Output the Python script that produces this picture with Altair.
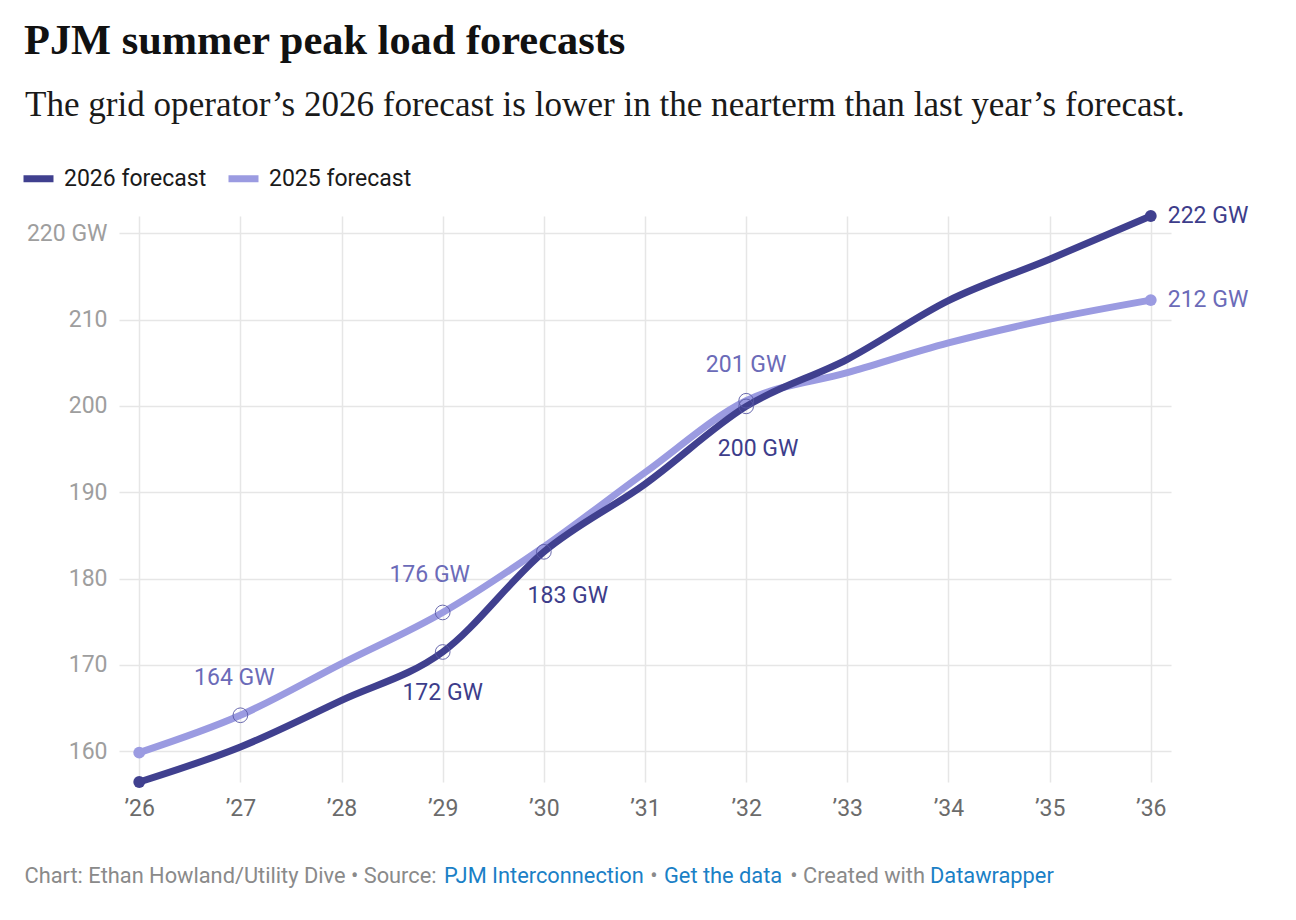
import altair as alt
import pandas as pd

# ---- data ----
years = list(range(2026, 2037))
forecast_2026 = [156.44, 160.5, 165.9, 171.5, 183.1, 190.95, 199.95, 205.4, 212.2, 217.0, 222.0]
forecast_2025 = [159.85, 164.17, 170.16, 176.08, 183.68, 192.29, 200.6, 203.85, 207.3, 210.05, 212.26]
series_names = ["2026 forecast", "2025 forecast"]
series_colors = ["#40408f", "#9b9be1"]
label_colors = {"2026 forecast": "#3d3d8b", "2025 forecast": "#6b6bb8"}
y_ticks = [160, 170, 180, 190, 200, 210, 220]
x_ticks = years

# annotated points: series, year, label, dx, dy
ann_series = ["2025 forecast", "2025 forecast", "2026 forecast", "2026 forecast", "2026 forecast", "2025 forecast"]
ann_years = [2027, 2029, 2029, 2030, 2032, 2032]
ann_labels = ["164 GW", "176 GW", "172 GW", "183 GW", "200 GW", "201 GW"]
ann_dx = [-6, -13, 0, 24, 12, 0]
ann_dy = [-30, -30, 48, 51, 50, -29]

end_series = ["2026 forecast", "2025 forecast"]
end_labels = ["222 GW", "212 GW"]

title_text = "PJM summer peak load forecasts"
subtitle_text = "The grid operator\u2019s 2026 forecast is lower in the nearterm than last year\u2019s forecast."

# ---- tables ----
df = pd.DataFrame({
    "year": years * 2,
    "value": forecast_2026 + forecast_2025,
    "series": ["2026 forecast"] * len(years) + ["2025 forecast"] * len(years),
})

lookup = {(s, y): v for s, y, v in zip(df["series"], df["year"], df["value"])}
ann_df = pd.DataFrame({
    "series": ann_series,
    "year": ann_years,
    "value": [lookup[(s, y)] for s, y in zip(ann_series, ann_years)],
    "label": ann_labels,
})
end_df = pd.DataFrame({
    "series": end_series,
    "year": [2036, 2036],
    "value": [lookup[(s, 2036)] for s in end_series],
    "label": end_labels,
})

all_vals = forecast_2026 + forecast_2025
xscale = alt.Scale(domain=[2025.8, 2036.2], nice=False, zero=False)
yscale = alt.Scale(domain=[min(all_vals), max(all_vals)], nice=False, zero=False)

xaxis = alt.Axis(
    title=None, values=x_ticks, format="d",
    labelExpr="'\u2019' + substring(datum.label, 2, 4)",
    domain=False, ticks=False, labelPadding=15, grid=True,
    labelColor="#6b6b6b", labelFontSize=23, labelFont="Roboto",
)
yaxis = alt.Axis(
    title=None, values=y_ticks,
    labelExpr="datum.value == 220 ? '220 GW' : datum.label",
    domain=False, ticks=False, labelPadding=12, grid=True,
    labelColor="#9e9e9e", labelFontSize=23, labelFont="Roboto",
)

X = alt.X("year:Q", scale=xscale, axis=xaxis)
Y = alt.Y("value:Q", scale=yscale, axis=yaxis)

color_legend = alt.Legend(
    title=None, orient="none", legendX=-99, legendY=-56, direction="horizontal",
    symbolType="stroke", symbolStrokeWidth=7, symbolSize=900,
    labelFontSize=23, labelFont="Roboto", labelColor="#1a1a1a",
    labelOffset=7, columnPadding=7, padding=0, labelLimit=400,
)
color_enc = alt.Color("series:N", scale=alt.Scale(domain=series_names, range=series_colors), legend=color_legend)
color_nolegend = alt.Color("series:N", scale=alt.Scale(domain=series_names, range=series_colors), legend=None)

base = alt.Chart(df).encode(x=X, y=Y)

light_line = base.transform_filter(alt.datum.series == "2025 forecast").mark_line(
    strokeWidth=7, interpolate="monotone", strokeCap="round", strokeJoin="round"
).encode(color=color_enc)
dark_line = base.transform_filter(alt.datum.series == "2026 forecast").mark_line(
    strokeWidth=7, interpolate="monotone", strokeCap="round", strokeJoin="round"
).encode(color=color_enc)

end_dots = base.transform_filter(
    (alt.datum.year == 2026) | (alt.datum.year == 2036)
).mark_circle(size=140, opacity=1).encode(color=color_nolegend)

hollow = alt.Chart(ann_df).mark_point(
    shape="circle", filled=False, size=216, strokeWidth=1, color="#5a5aa6", opacity=0.9
).encode(x=X, y=Y)

layers = [light_line, dark_line, end_dots, hollow]

for i in range(len(ann_labels)):
    layers.append(
        alt.Chart(ann_df).transform_filter(alt.datum.label == ann_labels[i]).mark_text(
            align="center", baseline="alphabetic", dx=ann_dx[i], dy=ann_dy[i],
            fontSize=23, font="Roboto", color=label_colors[ann_series[i]],
        ).encode(x=X, y=Y, text="label:N")
    )

for i in range(len(end_labels)):
    layers.append(
        alt.Chart(end_df).transform_filter(alt.datum.label == end_labels[i]).mark_text(
            align="left", baseline="middle", dx=17, dy=0,
            fontSize=23, font="Roboto", color=label_colors[end_series[i]],
        ).encode(x=X, y=Y, text="label:N")
    )

def text_layer(txt, x, y, size, color, font, weight="normal", align="left"):
    return alt.Chart(pd.DataFrame({"t": [txt]})).mark_text(
        align=align, baseline="alphabetic", fontSize=size, font=font,
        fontWeight=weight, color=color,
    ).encode(text="t:N", x=alt.value(x), y=alt.value(y))

layers.append(text_layer(title_text, -95, -162, 42.4, "#111111", "Liberation Serif", "bold"))
layers.append(text_layer(subtitle_text, -94, -100, 35.1, "#1a1a1a", "Liberation Serif"))

gray = "#8a8a8a"
blue = "#1a80c6"
fs = 21.8
layers.append(text_layer("Chart: Ethan Howland/Utility Dive \u2022 Source:", -94.5, 667, fs, gray, "Roboto"))
layers.append(text_layer("PJM Interconnection", 325, 667, fs, blue, "Roboto"))
layers.append(text_layer("\u2022", 535, 667, fs, gray, "Roboto", align="center"))
layers.append(text_layer("Get the data", 545, 667, fs, blue, "Roboto"))
layers.append(text_layer("\u2022 Created with", 806, 667, fs, gray, "Roboto", align="right"))
layers.append(text_layer("Datawrapper", 811, 667, fs, blue, "Roboto"))

chart = alt.layer(*layers).properties(
    width=1052, height=566,
    padding={"left": 111, "top": 208, "right": 100, "bottom": 112},
    autosize=alt.AutoSizeParams(type="none"),
    background="white",
).configure_view(strokeWidth=0).configure_axis(
    gridColor="#e6e6e6", gridWidth=1.5
)

chart.save("out.html", embed_options={"renderer": "svg", "actions": False})
